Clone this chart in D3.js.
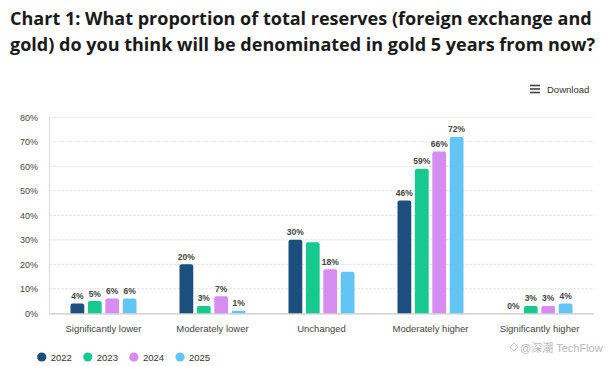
<!DOCTYPE html>
<html><head><meta charset="utf-8">
<script src="https://cdn.jsdelivr.net/npm/d3@7"></script>
<style>
html,body{margin:0;padding:0;background:#fff;}
svg{display:block;}
</style></head>
<body>
<svg id="c" width="612" height="366"></svg>
<script>
const titleLines = ["Chart 1: What proportion of total reserves (foreign exchange and",
                    "gold) do you think will be denominated in gold 5 years from now?"];
const categories = ["Significantly lower","Moderately lower","Unchanged","Moderately higher","Significantly higher"];
const seriesNames = ["2022","2023","2024","2025"];
const v2022 = [4, 20, 30, 46, 0];
const v2023 = [5, 3, 29, 59, 3];
const v2024 = [6, 7, 18, 66, 3];
const v2025 = [6, 1, 17, 72, 4];
// which value labels are drawn in the reference (Unchanged 2023/2025 unlabeled)
const hiddenLabels = [["2023","Unchanged"],["2025","Unchanged"]];
const yTicks = [0,10,20,30,40,50,60,70,80];
const colors = ["#1d4f7c","#17c98e","#d68cf0","#63c5f4"];

const allValues = [v2022,v2023,v2024,v2025];
const svg = d3.select("#c");
const m = {left:49, right:594, top:117.3, bottom:313.3};

// title
const tt = svg.append("g").selectAll("text").data(titleLines).join("text")
  .attr("x",10).attr("y",(d,i)=>24.5+i*26)
  .attr("font-family","'Open Sans', 'Noto Sans', sans-serif")
  .attr("font-weight",700).attr("font-size",18).attr("fill","#1a1a1a")
  .text(d=>d);
// fit first line to reference width (~582px)
const w0 = tt.nodes()[0].getComputedTextLength();
const fs = 18*582/w0;
tt.attr("font-size",fs);

// download
const dl = svg.append("g");
[85.5,89,92.5].forEach(y=>dl.append("rect").attr("x",530).attr("y",y-0.8).attr("width",10).attr("height",1.6).attr("fill","#444"));
dl.append("text").attr("x",547).attr("y",92.5).attr("font-family","'Liberation Sans', Arial, sans-serif")
  .attr("font-size",9.5).attr("fill","#333").text("Download");

const x = d3.scaleBand().domain(categories).range([m.left,m.right]).padding(0);
const xs = d3.scaleBand().domain(seriesNames).range([0,66]).paddingInner(0.21).paddingOuter(0);
const y = d3.scaleLinear().domain([0,80]).range([m.bottom,m.top]);

// grid
svg.append("g").selectAll("line").data(yTicks.slice(1)).join("line")
  .attr("x1",m.left).attr("x2",m.right).attr("y1",d=>y(d)).attr("y2",d=>y(d))
  .attr("stroke","#e4e4e4").attr("stroke-width",1).attr("stroke-dasharray","3,1");
svg.append("line").attr("x1",m.left+0.5).attr("x2",m.left+0.5).attr("y1",m.top).attr("y2",m.bottom)
  .attr("stroke","#dcdcdc");
svg.append("line").attr("x1",m.left).attr("x2",m.right).attr("y1",m.bottom+0.5).attr("y2",m.bottom+0.5)
  .attr("stroke","#c8c8c8").attr("stroke-width",1.2);

// y axis
const ya = svg.append("g").attr("transform",`translate(${m.left-11},0)`)
  .call(d3.axisLeft(y).tickValues(yTicks).tickFormat(d=>d+"%").tickSize(0).tickPadding(0));
ya.select(".domain").remove();
ya.selectAll("text").attr("font-family","'Liberation Sans', Arial, sans-serif").attr("font-size",9).attr("fill","#444");

// x axis labels
const xa = svg.append("g").attr("transform",`translate(0,${m.bottom})`)
  .call(d3.axisBottom(x).tickSize(0).tickPadding(12));
xa.select(".domain").remove();
xa.selectAll("text").attr("font-family","'Liberation Sans', Arial, sans-serif").attr("font-size",9.5).attr("fill","#444");

// bars
const data = [];
seriesNames.forEach((s,si)=>categories.forEach((c,ci)=>data.push({s,si,c,v:allValues[si][ci]})));
const off = (x.bandwidth()-66)/2;
function barPath(d){
  const x0 = x(d.c)+off+xs(d.s), w = xs.bandwidth();
  const y0 = y(d.v), yb = y(0);
  const r = Math.min(2, (yb-y0)/2, w/2);
  return `M${x0},${yb}V${y0+r}Q${x0},${y0} ${x0+r},${y0}H${x0+w-r}Q${x0+w},${y0} ${x0+w},${y0+r}V${yb}Z`;
}
svg.append("g").selectAll("path").data(data.filter(d=>d.v>0)).join("path")
  .attr("d",barPath).attr("fill",d=>colors[d.si]);

// value labels
const isHidden = d=>hiddenLabels.some(h=>h[0]===d.s && h[1]===d.c);
svg.append("g").selectAll("text").data(data.filter(d=>!isHidden(d))).join("text")
  .attr("x",d=>x(d.c)+off+xs(d.s)+xs.bandwidth()/2)
  .attr("y",d=>y(d.v)-4.5)
  .attr("text-anchor","middle")
  .attr("font-family","'Liberation Sans', Arial, sans-serif").attr("font-size",8.5).attr("font-weight",700)
  .attr("fill","#444").text(d=>d.v+"%");

// legend
const lg = svg.append("g").selectAll("g").data(seriesNames).join("g")
  .attr("transform",(d,i)=>`translate(${41.7+i*46.1},357)`);
lg.append("circle").attr("r",4.6).attr("fill",(d,i)=>colors[i]);
lg.append("text").attr("x",9).attr("y",3.5).attr("font-family","'Liberation Sans', Arial, sans-serif")
  .attr("font-size",9.5).attr("fill","#333").text(d=>d);

// watermark
const wm = svg.append("g").attr("fill","#b8b8b8");
wm.append("text").attr("x",520).attr("y",352).attr("font-family","'Liberation Sans', 'Noto Sans CJK SC', sans-serif")
  .attr("font-size",11).text("@深潮 TechFlow");
wm.append("path").attr("d","M514,343 l4,4 l-4,4 l-4,-4 Z").attr("fill","none").attr("stroke","#c4c4c4");
</script>
</body></html>
